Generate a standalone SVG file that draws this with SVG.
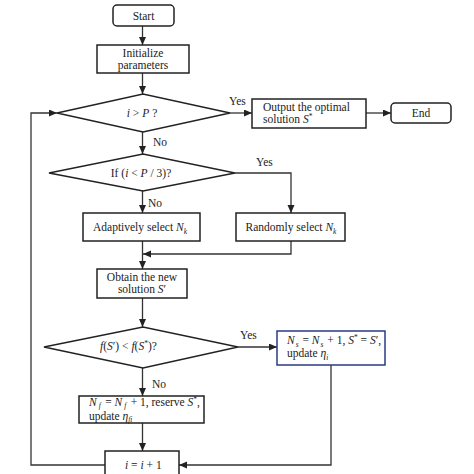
<svg xmlns="http://www.w3.org/2000/svg" width="474" height="474" viewBox="0 0 474 474">
<defs>
<style>
.b{fill:#fff;stroke:#222;stroke-width:1.5}
.bl{fill:#fff;stroke:#2a3b86;stroke-width:1.5}
.c{fill:none;stroke:#333;stroke-width:1.3}
text{font-family:"Liberation Serif","DejaVu Serif",serif;font-size:11.5px;fill:#222;stroke:none}
.m{text-anchor:middle}
.i{font-style:italic}
.s{font-size:7.5px}
</style>
<marker id="a" markerUnits="userSpaceOnUse" markerWidth="9" markerHeight="8" refX="8" refY="3.5" orient="auto">
<path d="M0,0 L8,3.5 L0,7 z" fill="#222"/>
</marker>
</defs>
<rect width="474" height="474" fill="#fff"/>
<g id="connectors">
<path class="c" d="M142.5,26 V45" marker-end="url(#a)"/>
<path class="c" d="M142.5,73 V94" marker-end="url(#a)"/>
<path class="c" d="M230,113 H252" marker-end="url(#a)"/>
<path class="c" d="M366,113 H391" marker-end="url(#a)"/>
<path class="c" d="M142.5,132 V154" marker-end="url(#a)"/>
<path class="c" d="M235,173 H291 V213" marker-end="url(#a)"/>
<path class="c" d="M142.5,191 V213" marker-end="url(#a)"/>
<path class="c" d="M142.5,241 V269" marker-end="url(#a)"/>
<path class="c" d="M291,241 V254 H143" marker-end="url(#a)"/>
<path class="c" d="M142.5,298 V327" marker-end="url(#a)"/>
<path class="c" d="M238,347 H277" marker-end="url(#a)"/>
<path class="c" d="M142.5,368 V396" marker-end="url(#a)"/>
<path class="c" d="M142.5,423 V451" marker-end="url(#a)"/>
<path class="c" d="M331,365 V465 H179" marker-end="url(#a)"/>
<path class="c" d="M105,465 H31 V113 H57" marker-end="url(#a)"/>
</g>
<g id="labels">
<text x="229" y="105">Yes</text>
<text x="153" y="146">No</text>
<text x="256" y="166">Yes</text>
<text x="148" y="207">No</text>
<text x="240" y="339">Yes</text>
<text x="152" y="388">No</text>
</g>
<g id="start">
<rect class="b" x="113" y="5" width="61" height="21" rx="4"/>
<text class="m" x="143.5" y="19.5">Start</text>
</g>
<g id="init">
<rect class="b" x="97" y="45" width="92" height="28"/>
<text class="m" x="143" y="57">Initialize</text>
<text class="m" x="143" y="69">parameters</text>
</g>
<g id="d1">
<path class="b" d="M57,113 L143,94 L230,113 L143,132 Z"/>
<text class="m" x="142" y="117"><tspan class="i">i</tspan> &gt; <tspan class="i">P</tspan> ?</text>
</g>
<g id="output">
<rect class="b" x="252" y="99" width="114" height="29"/>
<text x="263" y="111">Output the optimal</text>
<text x="263" y="123">solution  <tspan class="i">S</tspan><tspan class="s" dy="-4">*</tspan></text>
</g>
<g id="end">
<rect class="b" x="391" y="103" width="60" height="20" rx="4"/>
<text class="m" x="421" y="117">End</text>
</g>
<g id="d2">
<path class="b" d="M49,173 L143,154 L235,173 L143,191 Z"/>
<text class="m" x="141" y="177">If (<tspan class="i">i</tspan> &lt; <tspan class="i">P</tspan> / 3)?</text>
</g>
<g id="adaptive">
<rect class="b" x="83" y="213" width="117" height="28"/>
<text class="m" x="140" y="231">Adaptively select <tspan class="i">N</tspan><tspan class="s i" dy="2.5">k</tspan></text>
</g>
<g id="random">
<rect class="b" x="236" y="213" width="109" height="28"/>
<text class="m" x="291" y="231">Randomly select <tspan class="i">N</tspan><tspan class="s i" dy="2.5">k</tspan></text>
</g>
<g id="obtain">
<rect class="b" x="97" y="269" width="90" height="29"/>
<text class="m" x="142" y="281">Obtain the new</text>
<text class="m" x="142" y="293">solution  <tspan class="i">S</tspan>′</text>
</g>
<g id="d3">
<path class="b" d="M44,347 L143,327 L238,347 L143,368 Z"/>
<text x="100" y="350"><tspan class="i">f</tspan>(<tspan class="i">S</tspan>′) &lt; <tspan class="i">f</tspan>(<tspan class="i">S</tspan><tspan class="s" dy="-4">*</tspan><tspan dy="4">)?</tspan></text>
</g>
<g id="success">
<rect class="bl" x="277" y="331" width="108" height="34"/>
<text x="287" y="344"><tspan class="i">N</tspan><tspan class="s i" dy="2.5" dx="1">s</tspan><tspan dy="-2.5" dx="1"> = </tspan><tspan class="i">N</tspan><tspan class="s i" dy="2.5" dx="1">s</tspan><tspan dy="-2.5" dx="1"> + 1, </tspan><tspan class="i">S</tspan><tspan class="s" dy="-4">*</tspan><tspan dy="4"> = </tspan><tspan class="i">S</tspan>′,</text>
<text x="287" y="357">update <tspan class="i">η</tspan><tspan class="s i" dy="2.5">i</tspan></text>
</g>
<g id="fail">
<rect class="b" x="79" y="396" width="125" height="27"/>
<text x="89" y="406"><tspan class="i">N</tspan><tspan class="s i" dy="1.5" dx="2">f</tspan><tspan dy="-1.5" dx="1.5"> = </tspan><tspan class="i">N</tspan><tspan class="s i" dy="1.5" dx="2">f</tspan><tspan dy="-1.5" dx="1.5"> + 1, reserve </tspan><tspan class="i">S</tspan><tspan class="s" dy="-4">*</tspan><tspan dy="4">,</tspan></text>
<text x="89" y="419.5">update <tspan class="i">η</tspan><tspan class="s i" dy="2">fi</tspan></text>
</g>
<g id="incr">
<rect class="b" x="105" y="451" width="74" height="30"/>
<text x="125" y="469"><tspan class="i">i</tspan> = <tspan class="i">i</tspan>  + 1</text>
</g>
</svg>
